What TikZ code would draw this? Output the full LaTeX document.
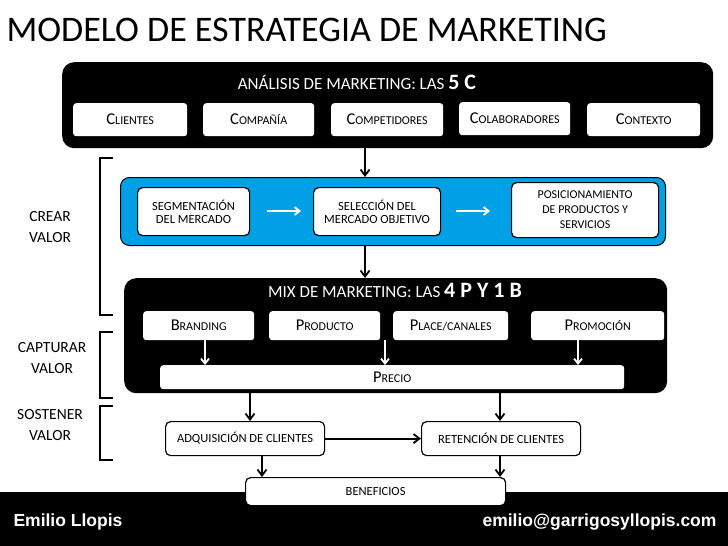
\documentclass[tikz,border=0pt]{standalone}
\usepackage{fontspec}
\setmainfont{Carlito}
\newfontfamily\arialf{Liberation Sans}
\usetikzlibrary{arrows.meta}
\newcommand{\fsc}[2]{{\fontsize{16.5}{18}\selectfont #1}{\fontsize{12}{13}\selectfont #2}}
\begin{document}
\begin{tikzpicture}[x=1pt,y=-1pt,
  blk/.style={fill=black,rounded corners=12pt},
  wbox/.style={fill=white,rounded corners=3pt,anchor=north west,inner sep=0pt,align=center,font=\fontsize{9}{10}\selectfont},
  wob/.style={fill=white,draw=black,line width=1.2pt,rounded corners=5pt,anchor=north west,inner sep=0pt,align=center,font=\fontsize{12.5}{13}\selectfont},
  barr/.style={-{Straight Barb[length=6pt,width=9pt]},line width=1.8pt,black},
  warr/.style={-{Straight Barb[length=5pt,width=8pt]},line width=1.8pt,white},
  brk/.style={line width=1.6pt},
  lbl/.style={align=center,font=\fontsize{15.5}{21}\selectfont}]
\useasboundingbox (0,0) rectangle (728,546);
\fill[white] (0,0) rectangle (728,546);
\node[anchor=west,font=\fontsize{36}{38}\selectfont] (title) at (3,30) {MODELO DE ESTRATEGIA DE MARKETING};
% box 1
\node[blk,minimum width=651pt,minimum height=86pt,anchor=north west,inner sep=0pt] (b1) at (62,62) {};
\node[text=white,font=\fontsize{17}{18}\selectfont] (h1) at (357,82) {ANÁLISIS DE MARKETING: LAS {\fontsize{22}{22}\selectfont\bfseries 5 C}};
\node[wbox,minimum width=114pt,minimum height=33pt] (c1) at (73,103) {\fsc{C}{LIENTES}};
\node[wbox,minimum width=111pt,minimum height=33pt] (c2) at (203,103) {\fsc{C}{OMPAÑÍA}};
\node[wbox,minimum width=112pt,minimum height=33pt] (c3) at (331,103) {\fsc{C}{OMPETIDORES}};
\node[wbox,minimum width=111pt,minimum height=33pt] (c4) at (459,102) {\fsc{C}{OLABORADORES}};
\node[wbox,minimum width=113pt,minimum height=33pt] (c5) at (587,103) {\fsc{C}{ONTEXTO}};
% blue box
\node[fill={rgb,255:red,0;green,160;blue,230},draw=black,line width=1pt,rounded corners=9pt,minimum width=545pt,minimum height=68pt,anchor=north west,inner sep=0pt] (b2) at (120,177) {};
\node[wob,minimum width=112pt,minimum height=48pt] (s1) at (137,187) {SEGMENTACIÓN\\DEL MERCADO};
\node[wob,minimum width=127pt,minimum height=48pt] (s2) at (313,187) {SELECCIÓN DEL\\MERCADO OBJETIVO};
\node[wob,minimum width=147pt,minimum height=55pt,font=\fontsize{12}{15}\selectfont] (s3) at (511,182) {POSICIONAMIENTO\\DE PRODUCTOS Y\\SERVICIOS};
\coordinate (wa1) at (267,211); \coordinate (wa2) at (301,211);
\coordinate (wa3) at (456,211); \coordinate (wa4) at (490,211);
\draw[warr] (wa1) -- (wa2);
\draw[warr] (wa3) -- (wa4);
\draw[barr] (b1.south -| 365,0) -- (b2.north -| 365,0);
% box 3
\node[blk,minimum width=543pt,minimum height=115pt,anchor=north west,inner sep=0pt] (b3) at (124,278) {};
\draw[barr] (b2.south -| 365,0) -- (b3.north -| 365,0);
\node[text=white,font=\fontsize{17}{18}\selectfont] (h3) at (395,290) {MIX DE MARKETING: LAS {\fontsize{22}{22}\selectfont\bfseries 4 P Y 1 B}};
\node[wbox,minimum width=111pt,minimum height=29pt] (p1) at (143,311) {\fsc{B}{RANDING}};
\node[wbox,minimum width=111pt,minimum height=29pt] (p2) at (269,311) {\fsc{P}{RODUCTO}};
\node[wbox,minimum width=115pt,minimum height=29pt] (p3) at (393,311) {\fsc{P}{LACE/CANALES}};
\node[wbox,minimum width=133pt,minimum height=29pt] (p4) at (531,311) {\fsc{P}{ROMOCIÓN}};
\node[wbox,minimum width=464pt,minimum height=24pt] (pr) at (160,365) {\fsc{P}{RECIO}};
\draw[warr] (p1.south -| 205,0) -- (pr.north -| 205,0);
\draw[warr] (p2.south -| 385,0) -- (pr.north -| 385,0);
\draw[warr] (p4.south -| 578,0) -- (pr.north -| 578,0);
% sostener
\node[wob,minimum width=159pt,minimum height=34pt] (ad) at (165,421) {ADQUISICIÓN DE CLIENTES};
\node[wob,minimum width=159pt,minimum height=34pt] (re) at (421,421) {RETENCIÓN DE CLIENTES};
\draw[barr] (b3.south -| 250,0) -- (ad.north -| 250,0);
\draw[barr] (b3.south -| 500,0) -- (re.north -| 500,0);
\draw[barr] (ad) -- (re);
% footer
\fill[black] (0,492) rectangle (728,546);
\node[wob,minimum width=260pt,minimum height=28pt] (be) at (245,477) {BENEFICIOS};
\draw[barr] (ad.south -| 262,0) -- (be.north -| 262,0);
\draw[barr] (re.south -| 500,0) -- (be.north -| 500,0);
\node[anchor=west,text=white,font=\arialf\bfseries\fontsize{17.5}{18}\selectfont] (f1) at (10,522) {Emilio Llopis};
\node[anchor=east,text=white,font=\arialf\bfseries\fontsize{17.5}{18}\selectfont] (f2) at (720,522) {emilio@garrigosyllopis.com};
% brackets
\draw[brk] (113,158) -- (100,158) -- (100,315) -- (113,315);
\draw[brk] (113,332) -- (100,332) -- (100,398) -- (113,398);
\draw[brk] (113,406) -- (100,406) -- (100,460) -- (113,460);
\node[lbl] (l1) at (50,227) {CREAR\\VALOR};
\node[lbl] (l2) at (52,358) {CAPTURAR\\VALOR};
\node[lbl] (l3) at (50,425) {SOSTENER\\VALOR};
\end{tikzpicture}
\end{document}
